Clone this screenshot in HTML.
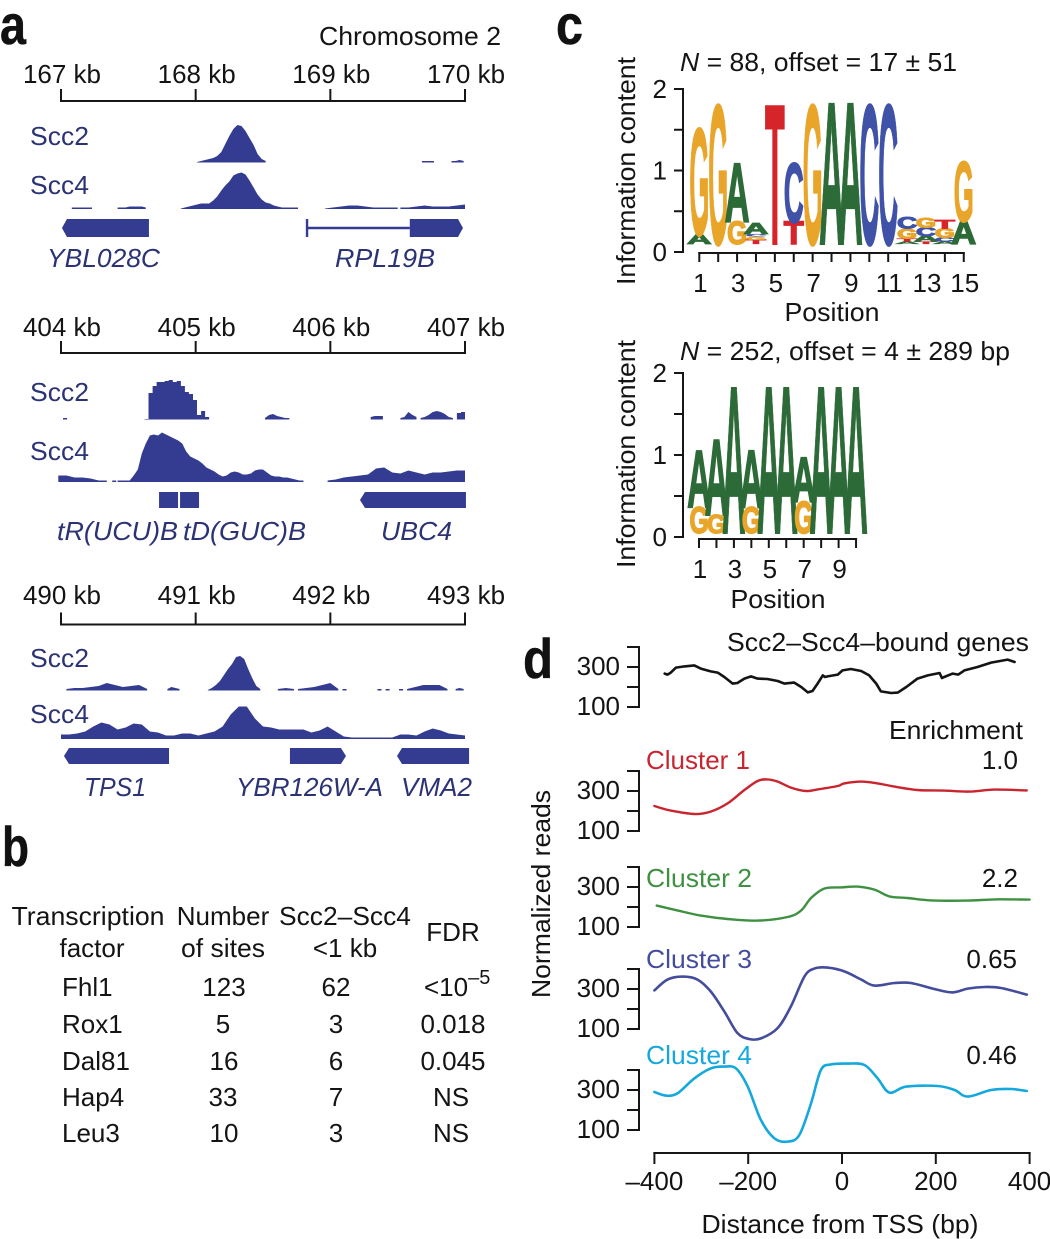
<!DOCTYPE html>
<html lang="en">
<head>
<meta charset="utf-8">
<title>Scc2-Scc4 binding figure</title>
<style>
html,body{margin:0;padding:0;background:#fff;}
svg{display:block;}
text{font-family:"Liberation Sans",Arial,sans-serif;font-size:26px;fill:#141414;}
.navy{fill:#2b3375;}
.it{font-style:italic;}
.mid{text-anchor:middle;}
.end{text-anchor:end;}
.panel{font-weight:bold;font-size:56px;fill:#111;stroke:#111;stroke-width:.5px;}
</style>
</head>
<body>
<svg id="fig" xmlns="http://www.w3.org/2000/svg" width="1050" height="1239" viewBox="0 0 1050 1239">
<g id="panelA">
<text class="panel" x="0" y="44" textLength="26" lengthAdjust="spacingAndGlyphs">a</text>
<text x="319" y="45" textLength="182" lengthAdjust="spacingAndGlyphs">Chromosome 2</text>
<text class="navy" x="30" y="145" textLength="59" lengthAdjust="spacingAndGlyphs">Scc2</text>
<text class="navy" x="30" y="194" textLength="59" lengthAdjust="spacingAndGlyphs">Scc4</text>
<text class="navy it" x="47" y="267" textLength="113" lengthAdjust="spacingAndGlyphs">YBL028C</text>
<text class="navy it" x="335" y="267" textLength="100" lengthAdjust="spacingAndGlyphs">RPL19B</text>
<text class="navy" x="30" y="401" textLength="59" lengthAdjust="spacingAndGlyphs">Scc2</text>
<text class="navy" x="30" y="460" textLength="59" lengthAdjust="spacingAndGlyphs">Scc4</text>
<text class="navy it" x="57" y="540" textLength="121" lengthAdjust="spacingAndGlyphs">tR(UCU)B</text>
<text class="navy it" x="183" y="540" textLength="123" lengthAdjust="spacingAndGlyphs">tD(GUC)B</text>
<text class="navy it" x="381" y="540" textLength="71" lengthAdjust="spacingAndGlyphs">UBC4</text>
<text class="navy" x="30" y="667" textLength="59" lengthAdjust="spacingAndGlyphs">Scc2</text>
<text class="navy" x="30" y="723" textLength="59" lengthAdjust="spacingAndGlyphs">Scc4</text>
<text class="navy it" x="84" y="796" textLength="62" lengthAdjust="spacingAndGlyphs">TPS1</text>
<text class="navy it" x="236" y="796" textLength="147" lengthAdjust="spacingAndGlyphs">YBR126W-A</text>
<text class="navy it" x="401" y="796" textLength="71" lengthAdjust="spacingAndGlyphs">VMA2</text>
</g>
<g id="panelB">
<text class="panel" x="2" y="866" textLength="27" lengthAdjust="spacingAndGlyphs">b</text>
<text class="mid" x="88" y="925" textLength="153" lengthAdjust="spacingAndGlyphs">Transcription</text>
<text class="mid" x="92" y="957">factor</text>
<text class="mid" x="223" y="925">Number</text>
<text class="mid" x="223" y="957" textLength="84" lengthAdjust="spacingAndGlyphs">of sites</text>
<text class="mid" x="345" y="925" textLength="132" lengthAdjust="spacingAndGlyphs">Scc2–Scc4</text>
<text class="mid" x="345" y="957">&lt;1 kb</text>
<text class="mid" x="453" y="941">FDR</text>
<text x="62" y="996">Fhl1</text>
<text x="62" y="1033">Rox1</text>
<text x="62" y="1070">Dal81</text>
<text x="62" y="1106">Hap4</text>
<text x="62" y="1142">Leu3</text>
<text class="mid" x="224" y="996">123</text>
<text class="mid" x="223" y="1033">5</text>
<text class="mid" x="224" y="1070">16</text>
<text class="mid" x="223" y="1106">33</text>
<text class="mid" x="224" y="1142">10</text>
<text class="mid" x="336" y="996">62</text>
<text class="mid" x="336" y="1033">3</text>
<text class="mid" x="336" y="1070">6</text>
<text class="mid" x="336" y="1106">7</text>
<text class="mid" x="336" y="1142">3</text>
<text x="424" y="996">&lt;10<tspan dy="-12" style="font-size:20px">–5</tspan></text>
<text class="mid" x="453" y="1033">0.018</text>
<text class="mid" x="453" y="1070">0.045</text>
<text class="mid" x="451" y="1106">NS</text>
<text class="mid" x="451" y="1142">NS</text>
</g>
<g id="panelC">
<text class="panel" x="556" y="44" textLength="27" lengthAdjust="spacingAndGlyphs">c</text>
<text x="680" y="71" textLength="277" lengthAdjust="spacingAndGlyphs"><tspan class="it">N</tspan> = 88, offset = 17 ± 51</text>
<text x="680" y="360" textLength="330" lengthAdjust="spacingAndGlyphs"><tspan class="it">N</tspan> = 252, offset = 4 ± 289 bp</text>
<text class="mid" transform="translate(635,171) rotate(-90)" textLength="228" lengthAdjust="spacingAndGlyphs">Information content</text>
<text class="mid" transform="translate(635,454) rotate(-90)" textLength="228" lengthAdjust="spacingAndGlyphs">Information content</text>
<text class="mid" x="832" y="321" textLength="95" lengthAdjust="spacingAndGlyphs">Position</text>
<text class="mid" x="778" y="608" textLength="95" lengthAdjust="spacingAndGlyphs">Position</text>
</g>
<g id="panelD">
<text class="panel" x="523" y="678" textLength="30" lengthAdjust="spacingAndGlyphs">d</text>
<text x="727" y="651" textLength="302" lengthAdjust="spacingAndGlyphs">Scc2–Scc4–bound genes</text>
<text x="889" y="739" textLength="134" lengthAdjust="spacingAndGlyphs">Enrichment</text>
<text x="646" y="769" textLength="104" lengthAdjust="spacingAndGlyphs" style="fill:#c9252f">Cluster 1</text>
<text x="646" y="887" textLength="106" lengthAdjust="spacingAndGlyphs" style="fill:#3f9142">Cluster 2</text>
<text x="646" y="968" textLength="106" lengthAdjust="spacingAndGlyphs" style="fill:#444c9c">Cluster 3</text>
<text x="646" y="1064" textLength="106" lengthAdjust="spacingAndGlyphs" style="fill:#14a8dd">Cluster 4</text>
<text class="end" x="1018" y="769">1.0</text>
<text class="end" x="1018" y="887">2.2</text>
<text class="end" x="1017" y="968">0.65</text>
<text class="end" x="1017" y="1064">0.46</text>
<text class="mid" transform="translate(550,894) rotate(-90)" textLength="208" lengthAdjust="spacingAndGlyphs">Normalized reads</text>
<text class="mid" x="840" y="1233" textLength="277" lengthAdjust="spacingAndGlyphs">Distance from TSS (bp)</text>
</g>
</svg>
<script>
// ---------- Panel a data: kb tick labels ----------
const region1Ticks = [167, 168, 169, 170];
const region2Ticks = [404, 405, 406, 407];
const region3Ticks = [490, 491, 492, 493];

// ---------- Panel a data: coverage, segments of start kb, bin size kb, heights ----------
const r1Scc2 = [
  {start:168.01, step:.03, values:[0,1,2,3,4,6,10,18,26,33,37,36,31,24,17,8,3,1]},
  {start:169.68, step:.03, values:[1,1,1,1]},
  {start:169.90, step:.03, values:[1,1,2,1]}
];
const r1Scc4 = [
  {start:167.08, step:.03, values:[1,1,1,1,1,1]},
  {start:167.42, step:.03, values:[1,1,1,2,2,2,2,1]},
  {start:167.89, step:.03, values:[0,1,2,3,4,5,5,5,8,12,18,23,27,33,35,36,34,28,21,14,9,6,5,3,2,1,1,1,1,1]},
  {start:168.96, step:.06, values:[0,1,2,3,3,2,1,1,1,1]},
  {start:169.52, step:.06, values:[1,1,2,3,2,2,2,3,4]}
];
const r2Scc2 = [
  {start:404.015, step:.03, values:[1,1]},
  {start:404.62, step:.03, stepped:true, values:[0,26,33,37,37,38,39,37,38,33,27,25,19,4,8,2,1]},
  {start:405.515, step:.03, values:[1,4,5,3,2,1,1]},
  {start:406.30, step:.03, values:[2,3,3,3]},
  {start:406.52, step:.03, values:[1,2,7,4,2]},
  {start:406.67, step:.03, values:[1,2,4,7,8,7,5,2,1]},
  {start:406.94, step:.03, stepped:true, values:[6,7,7]}
];
const r2Scc4 = [
  {start:403.98, step:.06, values:[6,6,4,4,3,1,1]},
  {start:404.38, step:.03, values:[1,1]},
  {start:404.42, step:.03, values:[1,1,1,1,6,12,28,38,46,47,46,49,47,45,43,41,38,30,25,23,21,18,14,12,10,7,5,6,9,10,9,7,7,8,11,12,12,9,6,5,5,4,4,3,2,1,1]},
  {start:405.98, step:.06, values:[1,2,4,5,6,7,13,14,9,8,11,9,7,9,9,10,11,11]}
];
const r3Scc2 = [
  {start:490.04, step:.06, values:[1,2,2,3,4,7,5,3,4,5,1]},
  {start:490.79, step:.03, values:[1,3,2,1]},
  {start:491.09, step:.03, values:[0,2,5,9,15,21,26,33,34,31,21,12,4,1]},
  {start:491.61, step:.06, values:[1,2,1]},
  {start:491.76, step:.06, values:[1,2,3,5,7,1]},
  {start:492.09, step:.03, values:[1,1]},
  {start:492.35, step:.03, values:[1,1]},
  {start:492.41, step:.03, values:[1,1]},
  {start:492.51, step:.03, values:[1,1]},
  {start:492.57, step:.06, values:[1,3,5,5,5,1]},
  {start:492.93, step:.03, values:[1,2,1]}
];
const r3Scc4 = [
  {start:490.0, step:.06, values:[4,4,5,7,12,16,14,9,11,15,14,7,6,3,3,5,5,3,5,7,12,24,32,32,20,12,11,9,9,9,9,6,8,12,7,2,1,1,1,1,1,1,4,4,3,7,10,8,5,4,3]}
];

// ---------- Panel a data: genes ----------
const r1Genes = [
  {name:'ybl028c', start:167.007, end:167.653, dir:-1},
  {name:'rpl19b', start:169.59, end:169.985, dir:1, intronStart:168.827}
];
const r2Genes = [
  {name:'trucub', start:404.728, end:404.869, dir:0},
  {name:'tdgucb', start:404.884, end:405.025, dir:0},
  {name:'ubc4', start:406.22, end:407.007, dir:-1}
];
const r3Genes = [
  {name:'tps1', start:490.022, end:490.802, dir:-1},
  {name:'ybr126w-a', start:491.70, end:492.116, dir:1},
  {name:'vma2', start:492.495, end:493.03, dir:-1}
];

// ---------- Panel c data ----------
const logo1Positions = [1,2,3,4,5,6,7,8,9,10,11,12,13,14,15];
const logo1Letters = [['A','G'],['G'],['G','A'],['T','G','C','A'],['T'],['T','C'],['G'],['A'],['A'],['C'],['C'],['A','T','G','C'],['T','A','C','G'],['A','C','G','T'],['A','G']];
const logo1Bits = [[.115,1.29],[1.69],[.27,.71],[.05,.04,.03,.13],[1.69],[.27,.71],[1.69],[1.72],[1.72],[1.69],[1.69],[.03,.04,.12,.14],[.03,.07,.1,.12],[.03,.05,.11,.1],[.28,.72]];
const logo1YTicks = [0,.5,1,1.5,2];
const logo1XLabels = [1,3,5,7,9,11,13,15];
const logo2Positions = [1,2,3,4,5,6,7,8,9,10];
const logo2Letters = [['G','A'],['G','A'],['A'],['G','A'],['A'],['A'],['G','A'],['A'],['A'],['A']];
const logo2Bits = [[.31,.69],[.22,.92],[1.78],[.31,.7],[1.78],[1.78],[.38,.54],[1.78],[1.78],[1.78]];
const logo2YTicks = [0,.5,1,1.5,2];
const logo2XLabels = [1,3,5,7,9];

// ---------- Panel d data ----------
const blackBp = [-378,-372,-365,-354,-336,-315,-301,-280,-265,-251,-233,-223,-208,-194,-180,-159,-137,-123,-102,-87,-73,-63,-52,-41,-36,-31,-9,1,19,41,58,73,83,105,119,137,161,183,208,213,218,236,248,261,289,318,353,368];
const blackReads = [267,262,272,297,303,308,292,278,272,250,217,220,242,253,242,240,230,217,222,200,173,180,217,258,250,253,262,283,290,280,258,217,178,170,172,200,242,258,270,245,250,267,262,283,300,322,337,325];
const cluster1Bp = [-400,-365,-315,-280,-244,-208,-180,-159,-137,-109,-77,-52,-9,5,41,76,112,161,218,272,325,394];
const cluster1Reads = [225,202,185,197,238,305,350,358,347,317,300,308,325,338,347,338,322,305,302,297,307,303];
const cluster2Bp = [-395,-351,-301,-244,-180,-116,-87,-66,-38,-2,33,69,101,140,190,268,325,400];
const cluster2Reads = [207,183,157,140,132,150,183,245,292,298,302,287,253,245,233,232,238,237];
const cluster3Bp = [-400,-372,-340,-308,-280,-251,-223,-198,-173,-137,-109,-80,-59,-31,5,41,69,112,147,197,236,268,304,339,394];
const cluster3Reads = [293,347,362,347,288,188,80,50,53,105,213,363,402,407,388,347,317,330,330,300,283,302,310,305,272];
const cluster4Bp = [-400,-376,-351,-315,-280,-251,-226,-201,-173,-144,-116,-91,-66,-45,-23,12,48,76,101,137,204,240,268,318,361,394];
const cluster4Reads = [290,272,283,358,408,417,408,317,150,58,42,75,233,400,428,432,425,358,287,317,320,300,267,300,305,295];
const readTicks = [100,200,300,400];
const readLabels = [100,300];
const distanceTicks = [-400,-200,0,200,400];

// ---------- Drawing ----------
const NS = 'http://www.w3.org/2000/svg';
const NAVY = '#343c92';
const INK = '#161616';
const LETTER_COLORS = {A:'#2c6a38', C:'#3f52a8', G:'#e9a52a', T:'#d6242b'};
const LETTER_ADVANCE = {A:.722, C:.722, G:.778, T:.611};
const LETTER_WIDTH = {A:25, C:20, G:20, T:20};
const panelA = document.getElementById('panelA');
const panelC = document.getElementById('panelC');
const panelD = document.getElementById('panelD');

function make(parent, tag, attrs, txt) {
  const el = document.createElementNS(NS, tag);
  for (const k in attrs) el.setAttribute(k, attrs[k]);
  if (txt !== undefined) el.textContent = txt;
  parent.appendChild(el);
  return el;
}
function drawLine(parent, x1, y1, x2, y2, name) {
  const el = make(parent, 'line', {x1:x1, y1:y1, x2:x2, y2:y2, stroke:INK, 'stroke-width':2, 'stroke-linecap':'square'});
  
  
  return el;
}
function drawText(parent, x, y, str, cls, name) {
  const el = make(parent, 'text', {x:x, y:y, class:cls}, str);
  
  
  return el;
}

function drawRegion(ticks, axisY, labelY, base2, base4, genes, geneTop, geneH, scc2, scc4, id) {
  const kb0 = ticks[0];
  const sx = kb => 61 + (kb - kb0) * 134.67;
  drawLine(panelA, sx(ticks[0]), axisY, sx(ticks[ticks.length-1]), axisY, id + '-axis');
  ticks.forEach(t => {
    drawLine(panelA, sx(t), axisY, sx(t), axisY - 11, id + '-tick');
    drawText(panelA, sx(t) + 1, labelY, t + ' kb', 'mid', id + '-tick-label');
  });
  [[scc2, base2, 'scc2'], [scc4, base4, 'scc4']].forEach(([segs, base, who]) => {
    segs.forEach(seg => {
      let pts = sx(seg.start).toFixed(1) + ',' + base;
      seg.values.forEach((v, i) => {
        const x = sx(seg.start + i * seg.step).toFixed(1);
        const y = (base - v - 0.5).toFixed(1);
        pts += ' ' + x + ',' + y;
        if (seg.stepped && i < seg.values.length - 1) {
          pts += ' ' + sx(seg.start + (i + 1) * seg.step).toFixed(1) + ',' + y;
        }
      });
      pts += ' ' + sx(seg.start + (seg.values.length - 1) * seg.step).toFixed(1) + ',' + base;
      const el = make(panelA, 'polygon', {points:pts, fill:NAVY});
      
      
    });
  });
  genes.forEach(g => {
    const a = sx(g.start), b = sx(g.end), t = geneTop, h = geneH, c = 5;
    let pts;
    if (g.dir < 0) pts = [[a+c,t],[b,t],[b,t+h],[a+c,t+h],[a,t+h/2]];
    else if (g.dir > 0) pts = [[a,t],[b-c,t],[b,t+h/2],[b-c,t+h],[a,t+h]];
    else pts = [[a,t],[b,t],[b,t+h],[a,t+h]];
    const el = make(panelA, 'polygon', {points:pts.map(p => p.join(',')).join(' '), fill:NAVY});
    
    
    if (g.intronStart) {
      const i = sx(g.intronStart);
      const l = make(panelA, 'path', {d:'M'+i+' '+(t+h/2)+'H'+a+'M'+i+' '+t+'V'+(t+h), stroke:NAVY, 'stroke-width':2.4, fill:'none'});
      
      
    }
  });
}
drawRegion(region1Ticks, 101, 83, 162.5, 209, r1Genes, 219, 18, r1Scc2, r1Scc4, 'region-1');
drawRegion(region2Ticks, 353, 336, 419.5, 482, r2Genes, 492, 16, r2Scc2, r2Scc4, 'region-2');
drawRegion(region3Ticks, 624.5, 604, 690.5, 739, r3Genes, 748, 16, r3Scc2, r3Scc4, 'region-3');

function drawLogo(opts) {
  const {positions, letters, bits, yTicks, xLabels, id, yTop, yZero, base, xFirst, xStep, xAxisY, labelY, widthScale} = opts;
  const BIT = 81.5;
  const sx = p => xFirst + (p - 1) * xStep;
  const sy = v => yZero - (yZero - yTop) * v / 2;
  drawLine(panelC, 683, sy(yTicks[0]), 683, sy(yTicks[yTicks.length-1]), id + '-y-axis');
  yTicks.forEach(t => {
    drawLine(panelC, 675, sy(t), 683, sy(t), id + '-y-tick');
    if (Number.isInteger(t)) drawText(panelC, 667, sy(t) + 9, String(t), 'end', id + '-y-tick-label');
  });
  drawLine(panelC, sx(positions[0]), xAxisY, sx(positions[positions.length-1]), xAxisY, id + '-x-axis');
  positions.forEach(p => drawLine(panelC, sx(p), xAxisY, sx(p), xAxisY + 8, id + '-x-tick'));
  xLabels.forEach(p => drawText(panelC, sx(p) + 1, labelY, String(p), 'mid', id + '-x-tick-label'));
  positions.forEach((p, i) => {
    let acc = 0;
    letters[i].forEach((L, j) => {
      const h = bits[i][j] * BIT;
      const w = LETTER_WIDTH[L] * widthScale;
      const scX = w / (LETTER_ADVANCE[L] * 100);
      const scY = h / 68.8;
      const tx = sx(p) - w / 2;
      const ty = base - acc;
      const el = make(panelC, 'text', {
        transform:'translate(' + tx.toFixed(2) + ',' + ty.toFixed(2) + ') scale(' + scX.toFixed(4) + ',' + scY.toFixed(4) + ')',
        style:'font-size:100px;font-weight:bold;fill:' + LETTER_COLORS[L] + ';stroke:' + LETTER_COLORS[L] + ';stroke-width:1.4px;vector-effect:non-scaling-stroke'
      }, L);
      
      
      acc += h;
    });
  });
}
drawLogo({positions:logo1Positions, letters:logo1Letters, bits:logo1Bits, yTicks:logo1YTicks, xLabels:logo1XLabels, id:'logo-1', yTop:89, yZero:252, base:244, xFirst:699.3, xStep:18.89, xAxisY:253, labelY:292, widthScale:1});
drawLogo({positions:logo2Positions, letters:logo2Letters, bits:logo2Bits, yTicks:logo2YTicks, xLabels:logo2XLabels, id:'logo-2', yTop:373, yZero:537, base:533, xFirst:699, xStep:17.45, xAxisY:539, labelY:578, widthScale:.95});

const sxD = bp => 842 + bp * 0.469;
function smoothPath(xs, ys) {
  let d = 'M' + xs[0].toFixed(1) + ' ' + ys[0].toFixed(1);
  for (let i = 0; i < xs.length - 1; i++) {
    const i0 = Math.max(i - 1, 0), i3 = Math.min(i + 2, xs.length - 1);
    const c1x = xs[i] + (xs[i+1] - xs[i0]) / 6, c1y = ys[i] + (ys[i+1] - ys[i0]) / 6;
    const c2x = xs[i+1] - (xs[i3] - xs[i]) / 6, c2y = ys[i+1] - (ys[i3] - ys[i]) / 6;
    d += 'C' + c1x.toFixed(1) + ' ' + c1y.toFixed(1) + ' ' + c2x.toFixed(1) + ' ' + c2y.toFixed(1) + ' ' + xs[i+1].toFixed(1) + ' ' + ys[i+1].toFixed(1);
  }
  return d;
}
function drawProfile(bp, reads, y300, color, id, smooth, width) {
  const sy = v => y300 - (v - 300) * 0.2;
  drawLine(panelD, 639, sy(100), 639, sy(400), id + '-y-axis');
  readTicks.forEach(t => drawLine(panelD, 628, sy(t), 639, sy(t), id + '-y-tick'));
  readLabels.forEach(t => drawText(panelD, 620, sy(t) + 8, String(t), 'end', id + '-y-tick-label'));
  const xs = bp.map(sxD), ys = reads.map(sy);
  const d = smooth ? smoothPath(xs, ys) : 'M' + xs.map((x, i) => x.toFixed(1) + ' ' + ys[i].toFixed(1)).join('L');
  const el = make(panelD, 'path', {d:d, fill:'none', stroke:color, 'stroke-width':width, 'stroke-linejoin':'round', 'stroke-linecap':'round'});
  
  
}
drawProfile(blackBp, blackReads, 667, '#141414', 'bound-genes', false, 2.6);
drawProfile(cluster1Bp, cluster1Reads, 791, '#c9252f', 'cluster-1', true, 2.4);
drawProfile(cluster2Bp, cluster2Reads, 887, '#3f9142', 'cluster-2', true, 2.4);
drawProfile(cluster3Bp, cluster3Reads, 989, '#444c9c', 'cluster-3', true, 2.6);
drawProfile(cluster4Bp, cluster4Reads, 1090, '#14a8dd', 'cluster-4', true, 2.6);

drawLine(panelD, sxD(-400), 1153, sxD(400), 1153, 'x-axis');
distanceTicks.forEach(t => {
  drawLine(panelD, sxD(t), 1153, sxD(t), 1163, 'x-tick');
  const label = t < 0 ? '–' + Math.abs(t) : String(t);
  drawText(panelD, sxD(t), 1190, label, 'mid', 'x-tick-label');
});
</script>
</body>
</html>
